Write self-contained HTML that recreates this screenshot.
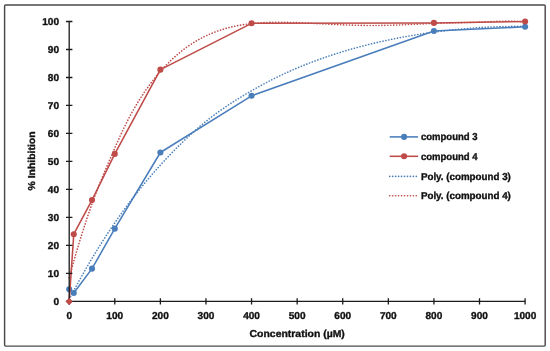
<!DOCTYPE html><html><head><meta charset="utf-8"><title>chart</title><style>html,body{margin:0;padding:0;background:#fff}svg{display:block}</style></head><body><svg width="550" height="351" viewBox="0 0 550 351">
<rect x="0" y="0" width="550" height="351" fill="#fff"/>
<rect x="4.6" y="4.9" width="540.6" height="341.2" rx="1" ry="1" fill="none" stroke="#4a4a4a" stroke-width="1.45"/>
<text x="59.00" y="304.50" text-anchor="end" font-family="Liberation Sans, sans-serif" font-weight="bold" stroke="#111" stroke-width="0.35" style="text-rendering:geometricPrecision" font-size="10" fill="#111" textLength="5.6" lengthAdjust="spacingAndGlyphs">0</text>
<text x="69.20" y="319.40" text-anchor="middle" font-family="Liberation Sans, sans-serif" font-weight="bold" stroke="#111" stroke-width="0.35" style="text-rendering:geometricPrecision" font-size="10" fill="#111" textLength="5.6" lengthAdjust="spacingAndGlyphs">0</text>
<text x="59.00" y="276.51" text-anchor="end" font-family="Liberation Sans, sans-serif" font-weight="bold" stroke="#111" stroke-width="0.35" style="text-rendering:geometricPrecision" font-size="10" fill="#111" textLength="11.2" lengthAdjust="spacingAndGlyphs">10</text>
<text x="114.79" y="319.40" text-anchor="middle" font-family="Liberation Sans, sans-serif" font-weight="bold" stroke="#111" stroke-width="0.35" style="text-rendering:geometricPrecision" font-size="10" fill="#111" textLength="16.8" lengthAdjust="spacingAndGlyphs">100</text>
<text x="59.00" y="248.52" text-anchor="end" font-family="Liberation Sans, sans-serif" font-weight="bold" stroke="#111" stroke-width="0.35" style="text-rendering:geometricPrecision" font-size="10" fill="#111" textLength="11.2" lengthAdjust="spacingAndGlyphs">20</text>
<text x="160.38" y="319.40" text-anchor="middle" font-family="Liberation Sans, sans-serif" font-weight="bold" stroke="#111" stroke-width="0.35" style="text-rendering:geometricPrecision" font-size="10" fill="#111" textLength="16.8" lengthAdjust="spacingAndGlyphs">200</text>
<text x="59.00" y="220.53" text-anchor="end" font-family="Liberation Sans, sans-serif" font-weight="bold" stroke="#111" stroke-width="0.35" style="text-rendering:geometricPrecision" font-size="10" fill="#111" textLength="11.2" lengthAdjust="spacingAndGlyphs">30</text>
<text x="205.97" y="319.40" text-anchor="middle" font-family="Liberation Sans, sans-serif" font-weight="bold" stroke="#111" stroke-width="0.35" style="text-rendering:geometricPrecision" font-size="10" fill="#111" textLength="16.8" lengthAdjust="spacingAndGlyphs">300</text>
<text x="59.00" y="192.54" text-anchor="end" font-family="Liberation Sans, sans-serif" font-weight="bold" stroke="#111" stroke-width="0.35" style="text-rendering:geometricPrecision" font-size="10" fill="#111" textLength="11.2" lengthAdjust="spacingAndGlyphs">40</text>
<text x="251.56" y="319.40" text-anchor="middle" font-family="Liberation Sans, sans-serif" font-weight="bold" stroke="#111" stroke-width="0.35" style="text-rendering:geometricPrecision" font-size="10" fill="#111" textLength="16.8" lengthAdjust="spacingAndGlyphs">400</text>
<text x="59.00" y="164.55" text-anchor="end" font-family="Liberation Sans, sans-serif" font-weight="bold" stroke="#111" stroke-width="0.35" style="text-rendering:geometricPrecision" font-size="10" fill="#111" textLength="11.2" lengthAdjust="spacingAndGlyphs">50</text>
<text x="297.15" y="319.40" text-anchor="middle" font-family="Liberation Sans, sans-serif" font-weight="bold" stroke="#111" stroke-width="0.35" style="text-rendering:geometricPrecision" font-size="10" fill="#111" textLength="16.8" lengthAdjust="spacingAndGlyphs">500</text>
<text x="59.00" y="136.56" text-anchor="end" font-family="Liberation Sans, sans-serif" font-weight="bold" stroke="#111" stroke-width="0.35" style="text-rendering:geometricPrecision" font-size="10" fill="#111" textLength="11.2" lengthAdjust="spacingAndGlyphs">60</text>
<text x="342.74" y="319.40" text-anchor="middle" font-family="Liberation Sans, sans-serif" font-weight="bold" stroke="#111" stroke-width="0.35" style="text-rendering:geometricPrecision" font-size="10" fill="#111" textLength="16.8" lengthAdjust="spacingAndGlyphs">600</text>
<text x="59.00" y="108.57" text-anchor="end" font-family="Liberation Sans, sans-serif" font-weight="bold" stroke="#111" stroke-width="0.35" style="text-rendering:geometricPrecision" font-size="10" fill="#111" textLength="11.2" lengthAdjust="spacingAndGlyphs">70</text>
<text x="388.33" y="319.40" text-anchor="middle" font-family="Liberation Sans, sans-serif" font-weight="bold" stroke="#111" stroke-width="0.35" style="text-rendering:geometricPrecision" font-size="10" fill="#111" textLength="16.8" lengthAdjust="spacingAndGlyphs">700</text>
<text x="59.00" y="80.58" text-anchor="end" font-family="Liberation Sans, sans-serif" font-weight="bold" stroke="#111" stroke-width="0.35" style="text-rendering:geometricPrecision" font-size="10" fill="#111" textLength="11.2" lengthAdjust="spacingAndGlyphs">80</text>
<text x="433.92" y="319.40" text-anchor="middle" font-family="Liberation Sans, sans-serif" font-weight="bold" stroke="#111" stroke-width="0.35" style="text-rendering:geometricPrecision" font-size="10" fill="#111" textLength="16.8" lengthAdjust="spacingAndGlyphs">800</text>
<text x="59.00" y="52.59" text-anchor="end" font-family="Liberation Sans, sans-serif" font-weight="bold" stroke="#111" stroke-width="0.35" style="text-rendering:geometricPrecision" font-size="10" fill="#111" textLength="11.2" lengthAdjust="spacingAndGlyphs">90</text>
<text x="479.51" y="319.40" text-anchor="middle" font-family="Liberation Sans, sans-serif" font-weight="bold" stroke="#111" stroke-width="0.35" style="text-rendering:geometricPrecision" font-size="10" fill="#111" textLength="16.8" lengthAdjust="spacingAndGlyphs">900</text>
<text x="59.00" y="24.60" text-anchor="end" font-family="Liberation Sans, sans-serif" font-weight="bold" stroke="#111" stroke-width="0.35" style="text-rendering:geometricPrecision" font-size="10" fill="#111" textLength="16.8" lengthAdjust="spacingAndGlyphs">100</text>
<text x="525.10" y="319.40" text-anchor="middle" font-family="Liberation Sans, sans-serif" font-weight="bold" stroke="#111" stroke-width="0.35" style="text-rendering:geometricPrecision" font-size="10" fill="#111" textLength="22.4" lengthAdjust="spacingAndGlyphs">1000</text>
<text x="297.20" y="336.60" text-anchor="middle" font-family="Liberation Sans, sans-serif" font-weight="bold" stroke="#111" stroke-width="0.35" style="text-rendering:geometricPrecision" font-size="10" fill="#111" textLength="95.3" lengthAdjust="spacingAndGlyphs">Concentration (µM)</text>
<text transform="translate(35.3 161) rotate(-90)" text-anchor="middle" font-family="Liberation Sans, sans-serif" font-weight="bold" stroke="#111" stroke-width="0.35" style="text-rendering:geometricPrecision" font-size="10" fill="#111" textLength="59" lengthAdjust="spacingAndGlyphs">% Inhibition</text>
<polyline points="69.20,299.22 71.48,294.89 73.76,290.61 76.04,286.40 78.32,282.23 80.60,278.13 82.88,274.08 85.16,270.08 87.44,266.14 89.72,262.26 92.00,258.42 94.27,254.64 96.55,250.91 98.83,247.23 101.11,243.60 103.39,240.02 105.67,236.49 107.95,233.00 110.23,229.57 112.51,226.18 114.79,222.85 117.07,219.55 119.35,216.31 121.63,213.11 123.91,209.95 126.19,206.84 128.47,203.78 130.75,200.75 133.03,197.77 135.31,194.83 137.59,191.94 139.86,189.08 142.14,186.26 144.42,183.48 146.70,180.75 148.98,178.04 151.26,175.38 153.54,172.75 155.82,170.16 158.10,167.60 160.38,165.07 162.66,162.58 164.94,160.12 167.22,157.69 169.50,155.30 171.78,152.93 174.06,150.59 176.34,148.29 178.62,146.01 180.90,143.77 183.18,141.56 185.45,139.38 187.73,137.23 190.01,135.12 192.29,133.04 194.57,131.00 196.85,129.00 199.13,127.03 201.41,125.10 203.69,123.21 205.97,121.36 208.25,119.55 210.53,117.77 212.81,116.03 215.09,114.33 217.37,112.66 219.65,111.03 221.93,109.42 224.21,107.85 226.49,106.30 228.76,104.78 231.04,103.29 233.32,101.81 235.60,100.36 237.88,98.93 240.16,97.52 242.44,96.13 244.72,94.76 247.00,93.41 249.28,92.07 251.56,90.75 253.84,89.45 256.12,88.17 258.40,86.90 260.68,85.65 262.96,84.42 265.24,83.21 267.52,82.01 269.80,80.83 272.08,79.67 274.36,78.53 276.63,77.40 278.91,76.29 281.19,75.20 283.47,74.13 285.75,73.08 288.03,72.04 290.31,71.01 292.59,70.01 294.87,69.02 297.15,68.04 299.43,67.09 301.71,66.15 303.99,65.22 306.27,64.31 308.55,63.41 310.83,62.53 313.11,61.66 315.39,60.81 317.67,59.97 319.94,59.15 322.22,58.34 324.50,57.54 326.78,56.75 329.06,55.98 331.34,55.23 333.62,54.48 335.90,53.75 338.18,53.03 340.46,52.32 342.74,51.62 345.02,50.94 347.30,50.27 349.58,49.60 351.86,48.96 354.14,48.32 356.42,47.69 358.70,47.07 360.98,46.47 363.26,45.87 365.54,45.29 367.81,44.71 370.09,44.15 372.37,43.60 374.65,43.05 376.93,42.52 379.21,42.00 381.49,41.48 383.77,40.98 386.05,40.48 388.33,40.00 390.61,39.52 392.89,39.05 395.17,38.60 397.45,38.15 399.73,37.71 402.01,37.27 404.29,36.85 406.57,36.44 408.85,36.03 411.12,35.64 413.40,35.25 415.68,34.87 417.96,34.50 420.24,34.14 422.52,33.78 424.80,33.44 427.08,33.10 429.36,32.77 431.64,32.45 433.92,32.13 436.20,31.83 438.48,31.53 440.76,31.24 443.04,30.96 445.32,30.69 447.60,30.42 449.88,30.17 452.16,29.92 454.44,29.68 456.72,29.45 458.99,29.22 461.27,29.01 463.55,28.80 465.83,28.60 468.11,28.41 470.39,28.23 472.67,28.05 474.95,27.89 477.23,27.73 479.51,27.58 481.79,27.44 484.07,27.31 486.35,27.18 488.63,27.07 490.91,26.96 493.19,26.86 495.47,26.77 497.75,26.69 500.03,26.62 502.31,26.56 504.58,26.51 506.86,26.47 509.14,26.43 511.42,26.41 513.70,26.39 515.98,26.39 518.26,26.39 520.54,26.41 522.82,26.43 525.10,26.47" fill="none" stroke="#4A7EBB" stroke-width="1.6" stroke-linecap="round" stroke-dasharray="0.1 2.85"/>
<polyline points="69.20,277.61 71.48,269.32 73.76,261.23 76.04,253.34 78.32,245.65 80.60,238.16 82.88,230.88 85.16,223.81 87.44,216.96 89.72,210.33 92.00,203.92 94.27,197.71 96.55,191.71 98.83,185.88 101.11,180.21 103.39,174.65 105.67,169.19 107.95,163.80 110.23,158.46 112.51,153.18 114.79,147.95 117.07,142.79 119.35,137.73 121.63,132.80 123.91,128.01 126.19,123.38 128.47,118.92 130.75,114.63 133.03,110.51 135.31,106.55 137.59,102.75 139.86,99.09 142.14,95.56 144.42,92.16 146.70,88.87 148.98,85.70 151.26,82.65 153.54,79.69 155.82,76.84 158.10,74.09 160.38,71.44 162.66,68.89 164.94,66.42 167.22,64.06 169.50,61.78 171.78,59.58 174.06,57.48 176.34,55.45 178.62,53.51 180.90,51.65 183.18,49.87 185.45,48.16 187.73,46.52 190.01,44.96 192.29,43.46 194.57,42.04 196.85,40.68 199.13,39.38 201.41,38.15 203.69,36.98 205.97,35.87 208.25,34.81 210.53,33.81 212.81,32.87 215.09,31.98 217.37,31.14 219.65,30.34 221.93,29.60 224.21,28.90 226.49,28.25 228.76,27.63 231.04,27.06 233.32,26.53 235.60,26.04 237.88,25.59 240.16,25.17 242.44,24.79 244.72,24.44 247.00,24.12 249.28,23.83 251.56,23.57 253.84,23.34 256.12,23.13 258.40,22.95 260.68,22.79 262.96,22.66 265.24,22.55 267.52,22.46 269.80,22.39 272.08,22.33 274.36,22.30 276.63,22.28 278.91,22.27 281.19,22.28 283.47,22.30 285.75,22.34 288.03,22.39 290.31,22.44 292.59,22.51 294.87,22.58 297.15,22.67 299.43,22.76 301.71,22.85 303.99,22.95 306.27,23.06 308.55,23.17 310.83,23.28 313.11,23.40 315.39,23.51 317.67,23.63 319.94,23.75 322.22,23.87 324.50,23.98 326.78,24.10 329.06,24.22 331.34,24.33 333.62,24.44 335.90,24.54 338.18,24.64 340.46,24.74 342.74,24.83 345.02,24.92 347.30,25.00 349.58,25.08 351.86,25.15 354.14,25.22 356.42,25.27 358.70,25.33 360.98,25.37 363.26,25.41 365.54,25.43 367.81,25.46 370.09,25.47 372.37,25.47 374.65,25.47 376.93,25.46 379.21,25.44 381.49,25.42 383.77,25.38 386.05,25.34 388.33,25.29 390.61,25.23 392.89,25.17 395.17,25.10 397.45,25.02 399.73,24.94 402.01,24.85 404.29,24.75 406.57,24.65 408.85,24.55 411.12,24.44 413.40,24.33 415.68,24.22 417.96,24.11 420.24,24.00 422.52,23.89 424.80,23.79 427.08,23.68 429.36,23.58 431.64,23.48 433.92,23.39 436.20,23.30 438.48,23.22 440.76,23.15 443.04,23.08 445.32,23.01 447.60,22.95 449.88,22.90 452.16,22.85 454.44,22.80 456.72,22.75 458.99,22.70 461.27,22.65 463.55,22.60 465.83,22.54 468.11,22.48 470.39,22.42 472.67,22.35 474.95,22.27 477.23,22.18 479.51,22.09 481.79,21.99 484.07,21.89 486.35,21.79 488.63,21.69 490.91,21.59 493.19,21.49 495.47,21.40 497.75,21.31 500.03,21.24 502.31,21.19 504.58,21.16 506.86,21.14 509.14,21.16 511.42,21.20 513.70,21.27 515.98,21.38 518.26,21.52 520.54,21.70 522.82,21.92 525.10,22.18" fill="none" stroke="#BE4B48" stroke-width="1.6" stroke-linecap="round" stroke-dasharray="0.1 2.85"/>
<polyline points="69.20,289.36 73.76,293.00 92.00,268.65 114.79,228.63 160.38,152.49 251.56,95.81 433.92,31.02 525.10,26.82" fill="none" stroke="#4A7EBB" stroke-width="1.55" stroke-linejoin="round"/><circle cx="69.20" cy="289.36" r="3.05" fill="#4A7EBB"/><circle cx="73.76" cy="293.00" r="3.05" fill="#4A7EBB"/><circle cx="92.00" cy="268.65" r="3.05" fill="#4A7EBB"/><circle cx="114.79" cy="228.63" r="3.05" fill="#4A7EBB"/><circle cx="160.38" cy="152.49" r="3.05" fill="#4A7EBB"/><circle cx="251.56" cy="95.81" r="3.05" fill="#4A7EBB"/><circle cx="433.92" cy="31.02" r="3.05" fill="#4A7EBB"/><circle cx="525.10" cy="26.82" r="3.05" fill="#4A7EBB"/>
<polyline points="69.20,301.40 73.76,234.22 92.00,200.08 114.79,153.89 160.38,69.64 251.56,23.32 433.92,22.90 525.10,21.50" fill="none" stroke="#BE4B48" stroke-width="1.55" stroke-linejoin="round"/><path d="M65.70 301.40L69.20 297.90L72.70 301.40L69.20 304.90Z" fill="#BE4B48"/><circle cx="73.76" cy="234.22" r="3.05" fill="#BE4B48"/><circle cx="92.00" cy="200.08" r="3.05" fill="#BE4B48"/><circle cx="114.79" cy="153.89" r="3.05" fill="#BE4B48"/><circle cx="160.38" cy="69.64" r="3.05" fill="#BE4B48"/><circle cx="251.56" cy="23.32" r="3.05" fill="#BE4B48"/><circle cx="433.92" cy="22.90" r="3.05" fill="#BE4B48"/><circle cx="525.10" cy="21.50" r="3.05" fill="#BE4B48"/>
<path d="M69.2 20.9V302.0M68.60000000000001 301.4H525.7M66.0 301.40h6.4M69.20 298.2v6.4M66.0 273.41h6.4M114.79 298.2v6.4M66.0 245.42h6.4M160.38 298.2v6.4M66.0 217.43h6.4M205.97 298.2v6.4M66.0 189.44h6.4M251.56 298.2v6.4M66.0 161.45h6.4M297.15 298.2v6.4M66.0 133.46h6.4M342.74 298.2v6.4M66.0 105.47h6.4M388.33 298.2v6.4M66.0 77.48h6.4M433.92 298.2v6.4M66.0 49.49h6.4M479.51 298.2v6.4M66.0 21.50h6.4M525.10 298.2v6.4" stroke="#1a1a1a" stroke-width="1.3" fill="none"/>
<path d="M65.70 301.40L69.20 297.90L72.70 301.40L69.20 304.90Z" fill="#BE4B48"/>
<path d="M389.7 136.9H418.1" stroke="#4A7EBB" stroke-width="1.55"/><circle cx="404.1" cy="136.9" r="3.05" fill="#4A7EBB"/>
<path d="M389.7 156.3H418.1" stroke="#BE4B48" stroke-width="1.55"/><circle cx="404.1" cy="156.3" r="3.05" fill="#BE4B48"/>
<path d="M389.7 176.4H418.1" stroke="#4A7EBB" stroke-width="1.6" stroke-linecap="round" stroke-dasharray="0.1 2.85"/>
<path d="M389.7 195.8H418.1" stroke="#BE4B48" stroke-width="1.6" stroke-linecap="round" stroke-dasharray="0.1 2.85"/>
<text x="420.90" y="140.20" text-anchor="start" font-family="Liberation Sans, sans-serif" font-weight="bold" stroke="#111" stroke-width="0.35" style="text-rendering:geometricPrecision" font-size="10" fill="#111" textLength="56.7" lengthAdjust="spacingAndGlyphs">compound 3</text>
<text x="420.90" y="159.60" text-anchor="start" font-family="Liberation Sans, sans-serif" font-weight="bold" stroke="#111" stroke-width="0.35" style="text-rendering:geometricPrecision" font-size="10" fill="#111" textLength="56.7" lengthAdjust="spacingAndGlyphs">compound 4</text>
<text x="420.90" y="179.70" text-anchor="start" font-family="Liberation Sans, sans-serif" font-weight="bold" stroke="#111" stroke-width="0.35" style="text-rendering:geometricPrecision" font-size="10" fill="#111" textLength="90" lengthAdjust="spacingAndGlyphs">Poly. (compound 3)</text>
<text x="420.90" y="199.10" text-anchor="start" font-family="Liberation Sans, sans-serif" font-weight="bold" stroke="#111" stroke-width="0.35" style="text-rendering:geometricPrecision" font-size="10" fill="#111" textLength="90" lengthAdjust="spacingAndGlyphs">Poly. (compound 4)</text>
</svg></body></html>
